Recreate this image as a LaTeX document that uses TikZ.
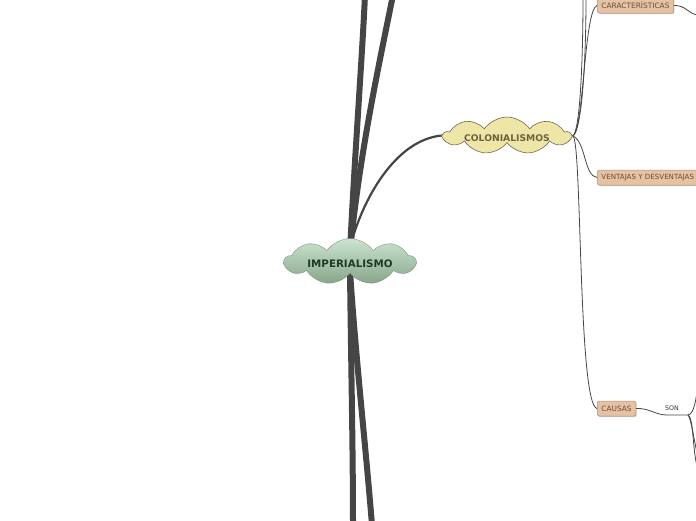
\documentclass[tikz,border=0pt]{standalone}
\usepackage{fontspec}
\setmainfont{DejaVu Sans}
\usetikzlibrary{shapes.symbols,backgrounds,shadows}
\definecolor{linegray}{HTML}{454545}
\definecolor{cloudtop}{HTML}{CBE4CF}
\definecolor{cloudbot}{HTML}{88A68A}
\definecolor{cloudtxt}{HTML}{1F3B22}
\definecolor{colfill}{HTML}{EDE6A6}
\definecolor{colline}{HTML}{6E6A52}
\definecolor{coltxt}{HTML}{6A6440}
\definecolor{boxfill}{HTML}{E6C2A4}
\definecolor{boxline}{HTML}{AE9176}
\definecolor{boxtxt}{HTML}{6B4E38}
\tikzset{
  maincloud/.style={cloud, cloud puffs=9, cloud puff arc=110, aspect=2.9,
    minimum width=131pt, minimum height=46pt, inner sep=0pt,
    top color=cloudtop, bottom color=cloudbot, draw=cloudbot!80!black, line width=0.3pt},
  maintext/.style={font=\fontsize{10.3}{11}\selectfont\bfseries, text=cloudtxt, inner sep=0pt, yshift=-2.5pt},
  subcloud/.style={cloud, cloud puffs=9, cloud puff arc=110, aspect=3.4,
    minimum width=127pt, minimum height=37pt, inner sep=0pt,
    fill=colfill, draw=colline, line width=0.6pt},
  subtext/.style={font=\fontsize{9.2}{10}\selectfont\bfseries, text=coltxt, inner sep=0pt, yshift=-2.5pt},
  topicbox/.style={rectangle, rounded corners=2pt, fill=boxfill, draw=boxline, line width=0.5pt,
    minimum height=15pt, inner xsep=4.2pt, inner ysep=0pt, anchor=west,
    font=\fontsize{7.4}{8}\selectfont, text=boxtxt,
    drop shadow={shadow xshift=0.8pt, shadow yshift=-1pt, fill=black!35, opacity=0.6}},
  thick line/.style={draw=linegray, line width=6pt},
  thin line/.style={draw=linegray, line width=0.8pt},
  small label/.style={font=\fontsize{6.3}{7}\selectfont, text=black!80, inner sep=1pt}
}
\begin{document}
\begin{tikzpicture}[x=1pt,y=-1pt]
\useasboundingbox (0,0) rectangle (696,520);
\node[maincloud, label={[maintext]center:IMPERIALISMO}] (imp) at (350,261.5) {};
\node[subcloud, label={[subtext]center:COLONIALISMOS}] (col) at (507,135.5) {};
\node[topicbox] (car) at (597,5.5) {CARACTERÍSTICAS};
\node[topicbox, font=\fontsize{7.1}{8}\selectfont] (ven) at (597,177.5) {VENTAJAS Y DESVENTAJAS};
\node[topicbox] (cau) at (597,408.5) {CAUSAS};
\node[small label] (son) at (672,408) {SON};
\coordinate (t1) at (365,-5);
\coordinate (t2) at (393,-5);
\coordinate (b1) at (353,525);
\coordinate (b2) at (372,525);
\coordinate (cj) at (573,136);
\coordinate (c1) at (583,-2);
\coordinate (c2) at (586,-2);
\coordinate (carR) at (698,15);
\coordinate (sj) at (688,415);
\coordinate (s1) at (698,385);
\coordinate (s2) at (698,470);
\coordinate (s3) at (698,458);
\begin{scope}[on background layer]
\draw[thick line] (imp.center) ++(0,-10) .. controls (355,150) and (362,60) .. (t1);
\draw[thick line] (imp.center) ++(0,-10) .. controls (360,150) and (380,60) .. (t2);
\draw[thick line] (imp.center) ++(0,10) .. controls (351,360) and (353,450) .. (b1);
\draw[thick line] (imp.center) ++(0,10) .. controls (356,360) and (366,450) .. (b2);
\draw[linegray, line width=2.2pt] (imp.center) ++(0,-14) .. controls (362,200) and (395,140) .. (col.west);
\end{scope}
\draw[thin line] (col.east) -- (cj);
\draw[thin line] (cj) .. controls (580,130) and (583,60) .. (c1);
\draw[thin line] (cj) .. controls (582,130) and (586,60) .. (c2);
\draw[thin line] (cj) .. controls (584,128) and (584,10) .. (car.west);
\draw[thin line] (cj) .. controls (586,142) and (584,176) .. (ven.west);
\draw[thin line] (cj) .. controls (582,142) and (578,405) .. (cau.west);
\draw[thin line] (car.east) .. controls (686,5) and (688,14) .. (carR);
\draw[thin line] (cau.east) .. controls (650,408) and (655,415) .. (667,415) -- (sj);
\draw[thin line] (sj) .. controls (694,414) and (696,400) .. (s1);
\draw[thin line] (sj) .. controls (694,418) and (692,450) .. (s2);
\draw[thin line] (sj) .. controls (691,418) and (694,440) .. (s3);
\end{tikzpicture}
\end{document}
